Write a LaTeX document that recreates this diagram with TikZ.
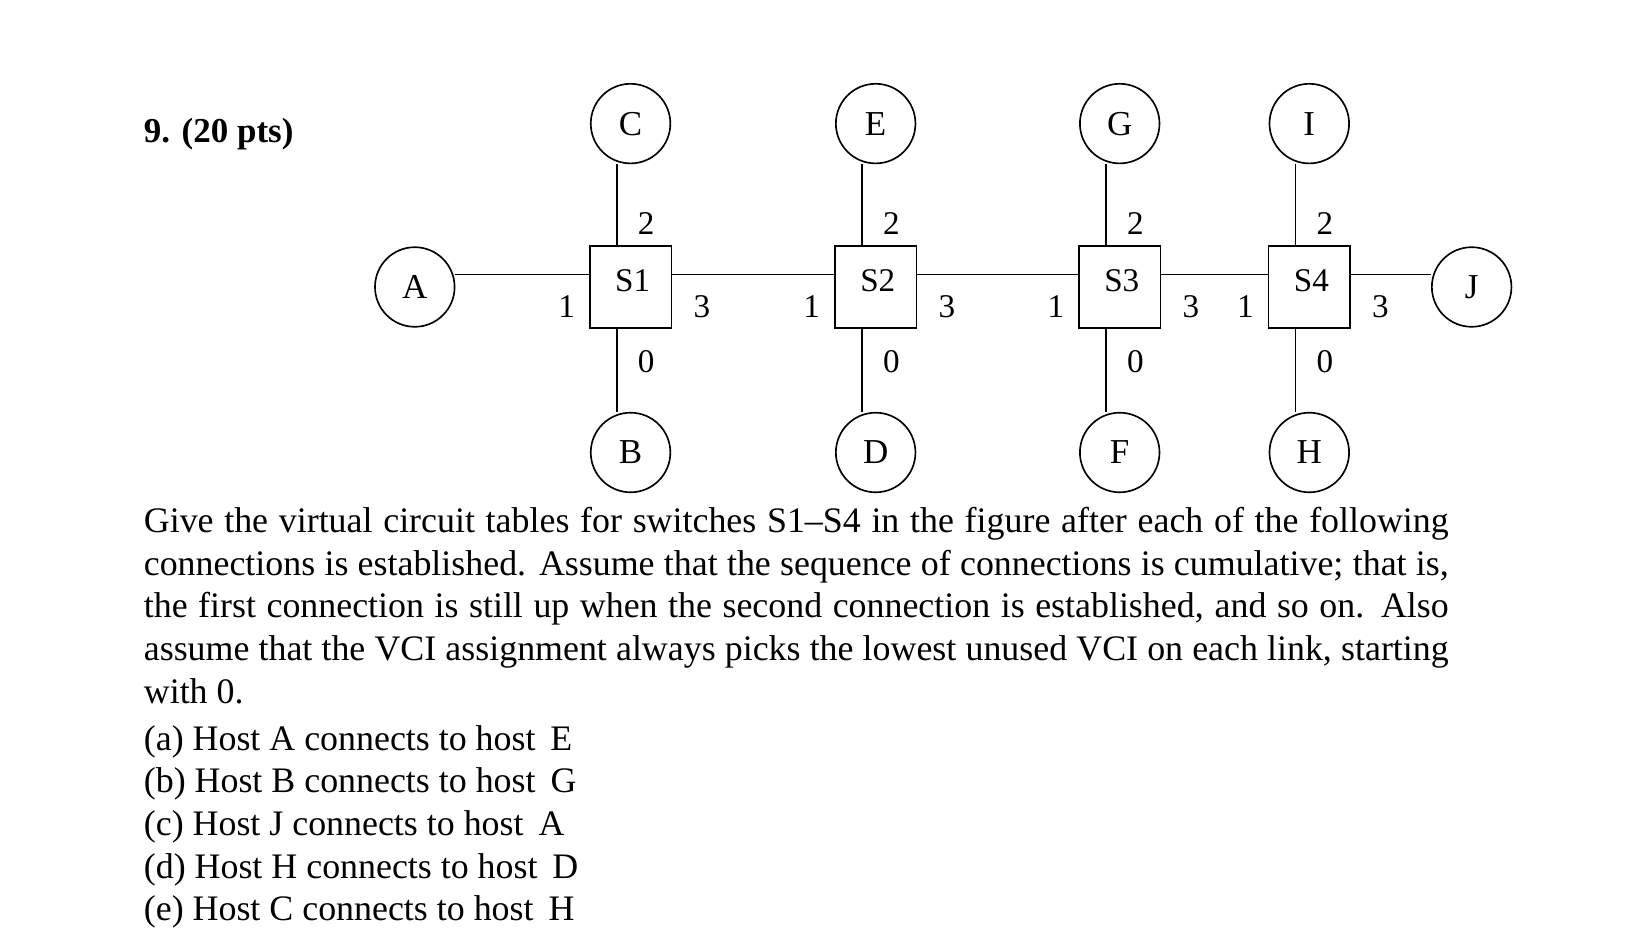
\documentclass[tikz,border=0pt]{standalone}
\usepackage{fontspec}
\setmainfont{Liberation Serif}
\begin{document}
\begin{tikzpicture}[x=0.02cm,y=-0.02cm,
  host/.style={circle,draw,line width=0.9pt,minimum size=1.52cm,inner sep=0pt,font=\fontsize{19}{22}\selectfont},
  sw/.style={rectangle,draw,line width=0.9pt,minimum size=1.56cm,inner sep=0pt,font=\fontsize{19}{22}\selectfont},
  lk/.style={line width=0.7pt},
  port/.style={font=\fontsize{18}{22}\selectfont,inner sep=0pt}]
\useasboundingbox (0,0) rectangle (1560,892);
\node[anchor=west,font=\bfseries\fontsize{19}{22}\selectfont,inner sep=0pt] (t) at (137,128) {9. (20 pts)};
\foreach \n/\x/\u/\d in {1/602/C/B,2/836/E/D,3/1069/G/F,4/1250/I/H}{
  \node[sw] (S\n) at (\x,274) {};
  \node[port] (S\n l) at (\x+2,268) {S\n};
  \node[host] (\u) at (\x,118) {\u};
  \node[host] (\d) at (\x,432) {\d};
  \draw[lk] ([xshift=-0.26cm]\u.south) -- ([xshift=-0.26cm]S\n.north);
  \draw[lk] ([xshift=-0.26cm]S\n.south) -- ([xshift=-0.26cm]\d.north);
  \node[port] (p2\n) at (\x+15,213) {2};
  \node[port] (p0\n) at (\x+15,345) {0};
  \node[port] (p1\n) at (\x-61,293) {1};
  \node[port] (p3\n) at (\x+68,293) {3};
}
\node[host] (A) at (396,274) {A};
\node[host] (J) at (1405,274) {J};
\draw[lk] ([yshift=0.24cm]A.east) -- ([yshift=0.24cm]S1.west);
\draw[lk] ([yshift=0.24cm]S1.east) -- ([yshift=0.24cm]S2.west);
\draw[lk] ([yshift=0.24cm]S2.east) -- ([yshift=0.24cm]S3.west);
\draw[lk] ([yshift=0.24cm]S3.east) -- ([yshift=0.24cm]S4.west);
\draw[lk] ([yshift=0.24cm]S4.east) -- ([yshift=0.24cm]J.west);
\node[anchor=north west,inner sep=0pt,text width=24.92cm,align=justify,font=\fontsize{19.5}{23.2}\selectfont] (para) at (137,484)
{Give the virtual circuit tables for switches S1--S4 in the figure after each of the following connections is established. Assume that the sequence of connections is cumulative; that is, the first connection is still up when the second connection is established, and so on. Also assume that the VCI assignment always picks the lowest unused VCI on each link, starting with 0.};
\node[anchor=north west,inner sep=0pt,align=left,font=\fontsize{19.5}{23.2}\selectfont] (items) at (137,692)
{(a) Host A connects to host\, E\\(b) Host B connects to host\, G\\(c) Host J connects to host\, A\\(d) Host H connects to host\, D\\(e) Host C connects to host\, H};
\end{tikzpicture}
\end{document}
